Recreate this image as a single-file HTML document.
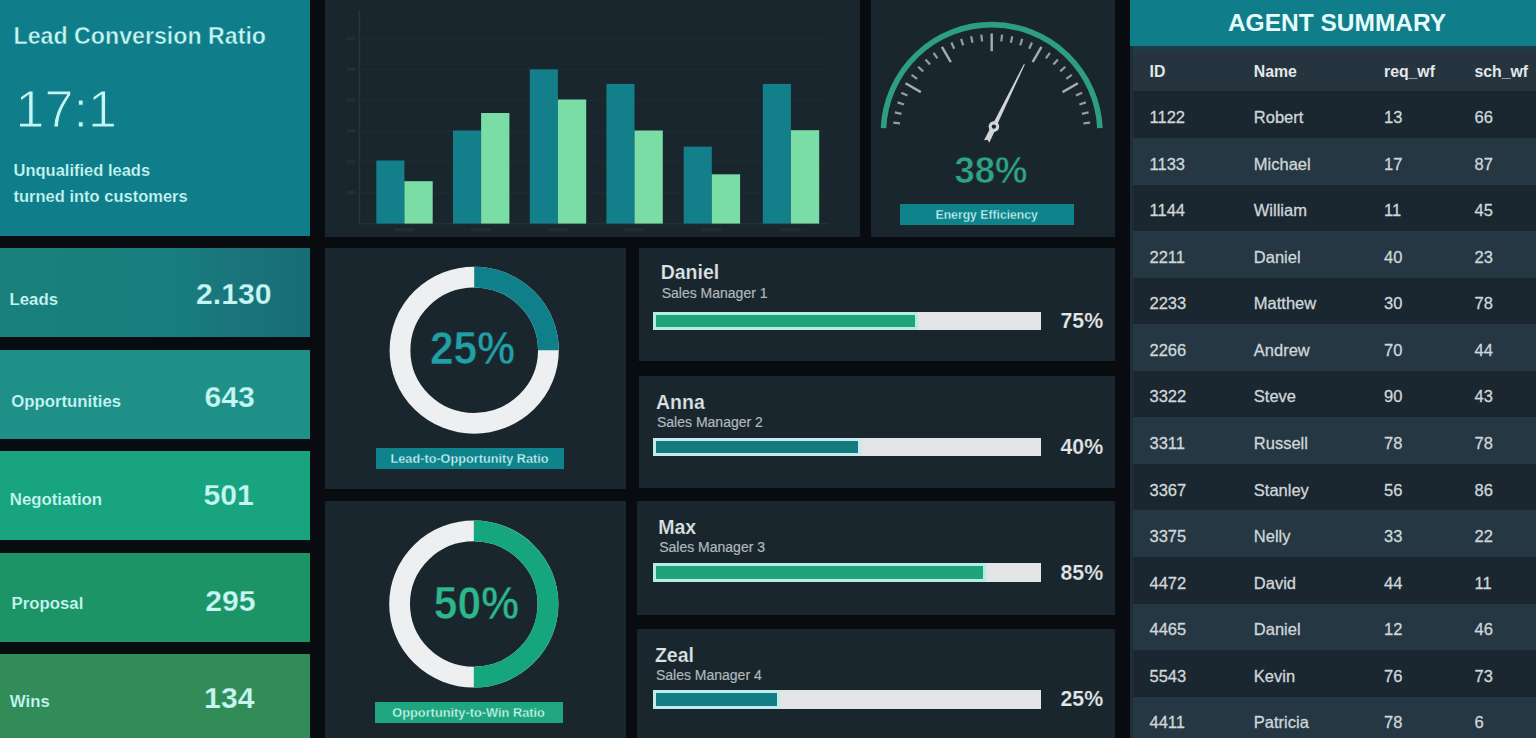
<!DOCTYPE html>
<html><head><meta charset="utf-8">
<style>
*{margin:0;padding:0;box-sizing:border-box}
html,body{width:1536px;height:738px;overflow:hidden;background:#080b10;font-family:"Liberation Sans",sans-serif}
.a{position:absolute}
.t{position:absolute;white-space:nowrap;line-height:1}
svg{position:absolute;overflow:visible}
</style></head><body>
<div class="a" style="left:0px;top:0px;width:310px;height:236px;background:#107e8a;"></div>
<div class="t" style="left:13.5px;top:25.2px;font-size:23.2px;font-weight:bold;color:#c6f6f4;-webkit-text-stroke:0.5px #107e8a">Lead Conversion Ratio</div>
<div class="t" style="left:15.6px;top:82.9px;font-size:52px;font-weight:normal;color:#c6f6f4;-webkit-text-stroke:1.1px #107e8a">17:1</div>
<div class="t" style="left:13.5px;top:162.0px;font-size:16.5px;font-weight:bold;color:#c6f6f4;-webkit-text-stroke:0.2px #107e8a">Unqualified leads</div>
<div class="t" style="left:13.5px;top:187.5px;font-size:16.5px;font-weight:bold;color:#c6f6f4;-webkit-text-stroke:0.2px #107e8a">turned into customers</div>
<div class="a" style="left:0px;top:248px;width:310px;height:89px;background:linear-gradient(90deg,#1a807d 0%,#187e7d 55%,#1a737b 79%,#176c76 100%);"></div>
<div class="t" style="left:9.5px;top:291.5px;font-size:16.8px;font-weight:bold;color:#c6f6f4;-webkit-text-stroke:0.15px #1a807d">Leads</div>
<div class="t" style="left:196.0px;top:279.4px;font-size:30.2px;font-weight:bold;color:#c6f6f4;-webkit-text-stroke:0.25px #19787c">2.130</div>
<div class="a" style="left:0px;top:350px;width:310px;height:89px;background:#1e9088;"></div>
<div class="t" style="left:11.2px;top:394.1px;font-size:16.8px;font-weight:bold;color:#c6f6f4;-webkit-text-stroke:0.15px #1e9088">Opportunities</div>
<div class="t" style="left:204.5px;top:382.2px;font-size:30.2px;font-weight:bold;color:#c6f6f4;-webkit-text-stroke:0.25px #1e9088">643</div>
<div class="a" style="left:0px;top:451px;width:310px;height:89px;background:#17a47e;"></div>
<div class="t" style="left:9.8px;top:491.5px;font-size:16.8px;font-weight:bold;color:#c6f6f4;-webkit-text-stroke:0.15px #17a47e">Negotiation</div>
<div class="t" style="left:203.5px;top:479.9px;font-size:30.2px;font-weight:bold;color:#c6f6f4;-webkit-text-stroke:0.25px #17a47e">501</div>
<div class="a" style="left:0px;top:553px;width:310px;height:89px;background:#1d9465;"></div>
<div class="t" style="left:11.5px;top:596.4px;font-size:16.8px;font-weight:bold;color:#c6f6f4;-webkit-text-stroke:0.15px #1d9465">Proposal</div>
<div class="t" style="left:205.2px;top:585.5px;font-size:30.2px;font-weight:bold;color:#c6f6f4;-webkit-text-stroke:0.25px #1d9465">295</div>
<div class="a" style="left:0px;top:654px;width:310px;height:90px;background:#318c57;"></div>
<div class="t" style="left:9.8px;top:693.6px;font-size:16.8px;font-weight:bold;color:#c6f6f4;-webkit-text-stroke:0.15px #318c57">Wins</div>
<div class="t" style="left:204.1px;top:682.7px;font-size:30.2px;font-weight:bold;color:#c6f6f4;-webkit-text-stroke:0.25px #318c57">134</div>
<div class="a" style="left:325px;top:0px;width:535px;height:237px;background:#1a262d;"></div>
<div class="a" style="left:871px;top:0px;width:244px;height:237px;background:#1a262d;"></div>
<div class="a" style="left:325px;top:248px;width:301px;height:241px;background:#1a262d;"></div>
<div class="a" style="left:325px;top:501px;width:301px;height:237px;background:#1a262d;"></div>
<div class="a" style="left:639px;top:248px;width:476px;height:113px;background:#1a262d;"></div>
<div class="a" style="left:639px;top:376px;width:476px;height:112px;background:#1a262d;"></div>
<div class="a" style="left:637px;top:501px;width:478px;height:114px;background:#1a262d;"></div>
<div class="a" style="left:637px;top:629px;width:478px;height:109px;background:#1a262d;"></div>
<div class="a" style="left:1130px;top:0px;width:406px;height:46.4px;background:#107e8a;"></div>
<div class="t" style="left:1037.0px;width:600px;text-align:center;top:10.5px;font-size:24.5px;font-weight:bold;color:#e6fbfb;">AGENT SUMMARY</div>
<div class="a" style="left:1130px;top:46.4px;width:406px;height:45.2px;background:linear-gradient(180deg,#1a3d47 0px,#213a45 4px,#26343f 9px,#26343f 100%);"></div>
<div class="t" style="left:1149.5px;top:63.8px;font-size:15.8px;font-weight:bold;color:#e2e8ea;">ID</div>
<div class="t" style="left:1253.8px;top:63.8px;font-size:15.8px;font-weight:bold;color:#e2e8ea;">Name</div>
<div class="t" style="left:1384.0px;top:63.8px;font-size:15.8px;font-weight:bold;color:#e2e8ea;">req_wf</div>
<div class="t" style="left:1474.5px;top:63.8px;font-size:15.8px;font-weight:bold;color:#e2e8ea;">sch_wf</div>
<div class="a" style="left:1130px;top:91.40px;width:406px;height:46.86px;background:#1a2630"></div>
<div class="t" style="left:1149.5px;top:109.0px;font-size:16.5px;font-weight:normal;color:#cfd6d9;-webkit-text-stroke:0.3px #cfd6d9">1122</div>
<div class="t" style="left:1253.8px;top:109.0px;font-size:16.5px;font-weight:normal;color:#cfd6d9;-webkit-text-stroke:0.3px #cfd6d9">Robert</div>
<div class="t" style="left:1384.0px;top:109.0px;font-size:16.5px;font-weight:normal;color:#cfd6d9;-webkit-text-stroke:0.3px #cfd6d9">13</div>
<div class="t" style="left:1474.5px;top:109.0px;font-size:16.5px;font-weight:normal;color:#cfd6d9;-webkit-text-stroke:0.3px #cfd6d9">66</div>
<div class="a" style="left:1130px;top:137.96px;width:406px;height:46.86px;background:#243742"></div>
<div class="t" style="left:1149.5px;top:155.6px;font-size:16.5px;font-weight:normal;color:#cfd6d9;-webkit-text-stroke:0.3px #cfd6d9">1133</div>
<div class="t" style="left:1253.8px;top:155.6px;font-size:16.5px;font-weight:normal;color:#cfd6d9;-webkit-text-stroke:0.3px #cfd6d9">Michael</div>
<div class="t" style="left:1384.0px;top:155.6px;font-size:16.5px;font-weight:normal;color:#cfd6d9;-webkit-text-stroke:0.3px #cfd6d9">17</div>
<div class="t" style="left:1474.5px;top:155.6px;font-size:16.5px;font-weight:normal;color:#cfd6d9;-webkit-text-stroke:0.3px #cfd6d9">87</div>
<div class="a" style="left:1130px;top:184.51px;width:406px;height:46.86px;background:#1a2630"></div>
<div class="t" style="left:1149.5px;top:202.1px;font-size:16.5px;font-weight:normal;color:#cfd6d9;-webkit-text-stroke:0.3px #cfd6d9">1144</div>
<div class="t" style="left:1253.8px;top:202.1px;font-size:16.5px;font-weight:normal;color:#cfd6d9;-webkit-text-stroke:0.3px #cfd6d9">William</div>
<div class="t" style="left:1384.0px;top:202.1px;font-size:16.5px;font-weight:normal;color:#cfd6d9;-webkit-text-stroke:0.3px #cfd6d9">11</div>
<div class="t" style="left:1474.5px;top:202.1px;font-size:16.5px;font-weight:normal;color:#cfd6d9;-webkit-text-stroke:0.3px #cfd6d9">45</div>
<div class="a" style="left:1130px;top:231.07px;width:406px;height:46.86px;background:#243742"></div>
<div class="t" style="left:1149.5px;top:248.7px;font-size:16.5px;font-weight:normal;color:#cfd6d9;-webkit-text-stroke:0.3px #cfd6d9">2211</div>
<div class="t" style="left:1253.8px;top:248.7px;font-size:16.5px;font-weight:normal;color:#cfd6d9;-webkit-text-stroke:0.3px #cfd6d9">Daniel</div>
<div class="t" style="left:1384.0px;top:248.7px;font-size:16.5px;font-weight:normal;color:#cfd6d9;-webkit-text-stroke:0.3px #cfd6d9">40</div>
<div class="t" style="left:1474.5px;top:248.7px;font-size:16.5px;font-weight:normal;color:#cfd6d9;-webkit-text-stroke:0.3px #cfd6d9">23</div>
<div class="a" style="left:1130px;top:277.63px;width:406px;height:46.86px;background:#1a2630"></div>
<div class="t" style="left:1149.5px;top:295.3px;font-size:16.5px;font-weight:normal;color:#cfd6d9;-webkit-text-stroke:0.3px #cfd6d9">2233</div>
<div class="t" style="left:1253.8px;top:295.3px;font-size:16.5px;font-weight:normal;color:#cfd6d9;-webkit-text-stroke:0.3px #cfd6d9">Matthew</div>
<div class="t" style="left:1384.0px;top:295.3px;font-size:16.5px;font-weight:normal;color:#cfd6d9;-webkit-text-stroke:0.3px #cfd6d9">30</div>
<div class="t" style="left:1474.5px;top:295.3px;font-size:16.5px;font-weight:normal;color:#cfd6d9;-webkit-text-stroke:0.3px #cfd6d9">78</div>
<div class="a" style="left:1130px;top:324.19px;width:406px;height:46.86px;background:#243742"></div>
<div class="t" style="left:1149.5px;top:341.8px;font-size:16.5px;font-weight:normal;color:#cfd6d9;-webkit-text-stroke:0.3px #cfd6d9">2266</div>
<div class="t" style="left:1253.8px;top:341.8px;font-size:16.5px;font-weight:normal;color:#cfd6d9;-webkit-text-stroke:0.3px #cfd6d9">Andrew</div>
<div class="t" style="left:1384.0px;top:341.8px;font-size:16.5px;font-weight:normal;color:#cfd6d9;-webkit-text-stroke:0.3px #cfd6d9">70</div>
<div class="t" style="left:1474.5px;top:341.8px;font-size:16.5px;font-weight:normal;color:#cfd6d9;-webkit-text-stroke:0.3px #cfd6d9">44</div>
<div class="a" style="left:1130px;top:370.74px;width:406px;height:46.86px;background:#1a2630"></div>
<div class="t" style="left:1149.5px;top:388.4px;font-size:16.5px;font-weight:normal;color:#cfd6d9;-webkit-text-stroke:0.3px #cfd6d9">3322</div>
<div class="t" style="left:1253.8px;top:388.4px;font-size:16.5px;font-weight:normal;color:#cfd6d9;-webkit-text-stroke:0.3px #cfd6d9">Steve</div>
<div class="t" style="left:1384.0px;top:388.4px;font-size:16.5px;font-weight:normal;color:#cfd6d9;-webkit-text-stroke:0.3px #cfd6d9">90</div>
<div class="t" style="left:1474.5px;top:388.4px;font-size:16.5px;font-weight:normal;color:#cfd6d9;-webkit-text-stroke:0.3px #cfd6d9">43</div>
<div class="a" style="left:1130px;top:417.30px;width:406px;height:46.86px;background:#243742"></div>
<div class="t" style="left:1149.5px;top:434.9px;font-size:16.5px;font-weight:normal;color:#cfd6d9;-webkit-text-stroke:0.3px #cfd6d9">3311</div>
<div class="t" style="left:1253.8px;top:434.9px;font-size:16.5px;font-weight:normal;color:#cfd6d9;-webkit-text-stroke:0.3px #cfd6d9">Russell</div>
<div class="t" style="left:1384.0px;top:434.9px;font-size:16.5px;font-weight:normal;color:#cfd6d9;-webkit-text-stroke:0.3px #cfd6d9">78</div>
<div class="t" style="left:1474.5px;top:434.9px;font-size:16.5px;font-weight:normal;color:#cfd6d9;-webkit-text-stroke:0.3px #cfd6d9">78</div>
<div class="a" style="left:1130px;top:463.86px;width:406px;height:46.86px;background:#1a2630"></div>
<div class="t" style="left:1149.5px;top:481.5px;font-size:16.5px;font-weight:normal;color:#cfd6d9;-webkit-text-stroke:0.3px #cfd6d9">3367</div>
<div class="t" style="left:1253.8px;top:481.5px;font-size:16.5px;font-weight:normal;color:#cfd6d9;-webkit-text-stroke:0.3px #cfd6d9">Stanley</div>
<div class="t" style="left:1384.0px;top:481.5px;font-size:16.5px;font-weight:normal;color:#cfd6d9;-webkit-text-stroke:0.3px #cfd6d9">56</div>
<div class="t" style="left:1474.5px;top:481.5px;font-size:16.5px;font-weight:normal;color:#cfd6d9;-webkit-text-stroke:0.3px #cfd6d9">86</div>
<div class="a" style="left:1130px;top:510.41px;width:406px;height:46.86px;background:#243742"></div>
<div class="t" style="left:1149.5px;top:528.0px;font-size:16.5px;font-weight:normal;color:#cfd6d9;-webkit-text-stroke:0.3px #cfd6d9">3375</div>
<div class="t" style="left:1253.8px;top:528.0px;font-size:16.5px;font-weight:normal;color:#cfd6d9;-webkit-text-stroke:0.3px #cfd6d9">Nelly</div>
<div class="t" style="left:1384.0px;top:528.0px;font-size:16.5px;font-weight:normal;color:#cfd6d9;-webkit-text-stroke:0.3px #cfd6d9">33</div>
<div class="t" style="left:1474.5px;top:528.0px;font-size:16.5px;font-weight:normal;color:#cfd6d9;-webkit-text-stroke:0.3px #cfd6d9">22</div>
<div class="a" style="left:1130px;top:556.97px;width:406px;height:46.86px;background:#1a2630"></div>
<div class="t" style="left:1149.5px;top:574.6px;font-size:16.5px;font-weight:normal;color:#cfd6d9;-webkit-text-stroke:0.3px #cfd6d9">4472</div>
<div class="t" style="left:1253.8px;top:574.6px;font-size:16.5px;font-weight:normal;color:#cfd6d9;-webkit-text-stroke:0.3px #cfd6d9">David</div>
<div class="t" style="left:1384.0px;top:574.6px;font-size:16.5px;font-weight:normal;color:#cfd6d9;-webkit-text-stroke:0.3px #cfd6d9">44</div>
<div class="t" style="left:1474.5px;top:574.6px;font-size:16.5px;font-weight:normal;color:#cfd6d9;-webkit-text-stroke:0.3px #cfd6d9">11</div>
<div class="a" style="left:1130px;top:603.53px;width:406px;height:46.86px;background:#243742"></div>
<div class="t" style="left:1149.5px;top:621.2px;font-size:16.5px;font-weight:normal;color:#cfd6d9;-webkit-text-stroke:0.3px #cfd6d9">4465</div>
<div class="t" style="left:1253.8px;top:621.2px;font-size:16.5px;font-weight:normal;color:#cfd6d9;-webkit-text-stroke:0.3px #cfd6d9">Daniel</div>
<div class="t" style="left:1384.0px;top:621.2px;font-size:16.5px;font-weight:normal;color:#cfd6d9;-webkit-text-stroke:0.3px #cfd6d9">12</div>
<div class="t" style="left:1474.5px;top:621.2px;font-size:16.5px;font-weight:normal;color:#cfd6d9;-webkit-text-stroke:0.3px #cfd6d9">46</div>
<div class="a" style="left:1130px;top:650.08px;width:406px;height:46.86px;background:#1a2630"></div>
<div class="t" style="left:1149.5px;top:667.7px;font-size:16.5px;font-weight:normal;color:#cfd6d9;-webkit-text-stroke:0.3px #cfd6d9">5543</div>
<div class="t" style="left:1253.8px;top:667.7px;font-size:16.5px;font-weight:normal;color:#cfd6d9;-webkit-text-stroke:0.3px #cfd6d9">Kevin</div>
<div class="t" style="left:1384.0px;top:667.7px;font-size:16.5px;font-weight:normal;color:#cfd6d9;-webkit-text-stroke:0.3px #cfd6d9">76</div>
<div class="t" style="left:1474.5px;top:667.7px;font-size:16.5px;font-weight:normal;color:#cfd6d9;-webkit-text-stroke:0.3px #cfd6d9">73</div>
<div class="a" style="left:1130px;top:696.64px;width:406px;height:46.86px;background:#243742"></div>
<div class="t" style="left:1149.5px;top:714.3px;font-size:16.5px;font-weight:normal;color:#cfd6d9;-webkit-text-stroke:0.3px #cfd6d9">4411</div>
<div class="t" style="left:1253.8px;top:714.3px;font-size:16.5px;font-weight:normal;color:#cfd6d9;-webkit-text-stroke:0.3px #cfd6d9">Patricia</div>
<div class="t" style="left:1384.0px;top:714.3px;font-size:16.5px;font-weight:normal;color:#cfd6d9;-webkit-text-stroke:0.3px #cfd6d9">78</div>
<div class="t" style="left:1474.5px;top:714.3px;font-size:16.5px;font-weight:normal;color:#cfd6d9;-webkit-text-stroke:0.3px #cfd6d9">6</div>
<div class="a" style="left:1129.5px;top:46.4px;width:3px;height:700px;background:#202e38;"></div>
<svg style="left:0;top:0" width="1536" height="738" viewBox="0 0 1536 738"><line x1="360" y1="192.8" x2="829" y2="192.8" stroke="#212c33" stroke-width="1"/><rect x="347" y="190.8" width="8" height="3.5" fill="#232e35"/><line x1="360" y1="162.0" x2="829" y2="162.0" stroke="#212c33" stroke-width="1"/><rect x="347" y="160.0" width="8" height="3.5" fill="#232e35"/><line x1="360" y1="131.2" x2="829" y2="131.2" stroke="#212c33" stroke-width="1"/><rect x="347" y="129.2" width="8" height="3.5" fill="#232e35"/><line x1="360" y1="100.4" x2="829" y2="100.4" stroke="#212c33" stroke-width="1"/><rect x="347" y="98.4" width="8" height="3.5" fill="#232e35"/><line x1="360" y1="69.6" x2="829" y2="69.6" stroke="#212c33" stroke-width="1"/><rect x="347" y="67.6" width="8" height="3.5" fill="#232e35"/><line x1="360" y1="38.8" x2="829" y2="38.8" stroke="#212c33" stroke-width="1"/><rect x="347" y="36.8" width="8" height="3.5" fill="#232e35"/><line x1="359.5" y1="10" x2="359.5" y2="224" stroke="#2a343c" stroke-width="1.5"/><line x1="359" y1="223.8" x2="829" y2="223.8" stroke="#2a343c" stroke-width="1"/><rect x="376.3" y="160.5" width="28.1" height="63.1" fill="#127f8b"/><rect x="404.4" y="181.2" width="28.3" height="42.4" fill="#7adda6"/><rect x="394.3" y="228" width="20" height="3" fill="#222d34"/><rect x="453.0" y="130.5" width="28.1" height="93.1" fill="#127f8b"/><rect x="481.1" y="113" width="28.3" height="110.6" fill="#7adda6"/><rect x="471.0" y="228" width="20" height="3" fill="#222d34"/><rect x="529.8" y="69.3" width="28.1" height="154.3" fill="#127f8b"/><rect x="557.9" y="99.5" width="28.3" height="124.1" fill="#7adda6"/><rect x="547.8" y="228" width="20" height="3" fill="#222d34"/><rect x="606.4" y="83.9" width="28.1" height="139.7" fill="#127f8b"/><rect x="634.5" y="130.5" width="28.3" height="93.1" fill="#7adda6"/><rect x="624.4" y="228" width="20" height="3" fill="#222d34"/><rect x="683.7" y="146.6" width="28.1" height="77.0" fill="#127f8b"/><rect x="711.8" y="174.3" width="28.3" height="49.3" fill="#7adda6"/><rect x="701.7" y="228" width="20" height="3" fill="#222d34"/><rect x="762.8" y="83.9" width="28.1" height="139.7" fill="#127f8b"/><rect x="790.9" y="130.2" width="28.3" height="93.4" fill="#7adda6"/><rect x="780.8" y="228" width="20" height="3" fill="#222d34"/><path d="M883.51,128.09 A108.3,108.3 0 0 1 1099.89,128.09" fill="none" stroke="#2d9e84" stroke-width="5.6"/><line x1="900.01" y1="123.36" x2="893.24" y2="122.65" stroke="#969da2" stroke-width="2.2"/><line x1="901.51" y1="113.83" x2="894.86" y2="112.42" stroke="#969da2" stroke-width="2.2"/><line x1="904.01" y1="104.51" x2="897.55" y2="102.41" stroke="#969da2" stroke-width="2.2"/><line x1="907.47" y1="95.50" x2="901.26" y2="92.73" stroke="#969da2" stroke-width="2.2"/><line x1="920.86" y1="92.10" x2="905.53" y2="83.25" stroke="#a7adb1" stroke-width="2.4"/><line x1="917.11" y1="78.81" x2="911.61" y2="74.81" stroke="#969da2" stroke-width="2.2"/><line x1="923.18" y1="71.31" x2="918.13" y2="66.76" stroke="#969da2" stroke-width="2.2"/><line x1="930.01" y1="64.48" x2="925.46" y2="59.43" stroke="#969da2" stroke-width="2.2"/><line x1="937.51" y1="58.41" x2="933.51" y2="52.91" stroke="#969da2" stroke-width="2.2"/><line x1="950.80" y1="62.16" x2="941.95" y2="46.83" stroke="#a7adb1" stroke-width="2.4"/><line x1="954.20" y1="48.77" x2="951.43" y2="42.56" stroke="#969da2" stroke-width="2.2"/><line x1="963.21" y1="45.31" x2="961.11" y2="38.85" stroke="#969da2" stroke-width="2.2"/><line x1="972.53" y1="42.81" x2="971.12" y2="36.16" stroke="#969da2" stroke-width="2.2"/><line x1="982.06" y1="41.31" x2="981.35" y2="34.54" stroke="#969da2" stroke-width="2.2"/><line x1="991.70" y1="51.20" x2="991.70" y2="33.50" stroke="#a7adb1" stroke-width="2.4"/><line x1="1001.34" y1="41.31" x2="1002.05" y2="34.54" stroke="#969da2" stroke-width="2.2"/><line x1="1010.87" y1="42.81" x2="1012.28" y2="36.16" stroke="#969da2" stroke-width="2.2"/><line x1="1020.19" y1="45.31" x2="1022.29" y2="38.85" stroke="#969da2" stroke-width="2.2"/><line x1="1029.20" y1="48.77" x2="1031.97" y2="42.56" stroke="#969da2" stroke-width="2.2"/><line x1="1032.60" y1="62.16" x2="1041.45" y2="46.83" stroke="#a7adb1" stroke-width="2.4"/><line x1="1045.89" y1="58.41" x2="1049.89" y2="52.91" stroke="#969da2" stroke-width="2.2"/><line x1="1053.39" y1="64.48" x2="1057.94" y2="59.43" stroke="#969da2" stroke-width="2.2"/><line x1="1060.22" y1="71.31" x2="1065.27" y2="66.76" stroke="#969da2" stroke-width="2.2"/><line x1="1066.29" y1="78.81" x2="1071.79" y2="74.81" stroke="#969da2" stroke-width="2.2"/><line x1="1062.54" y1="92.10" x2="1077.87" y2="83.25" stroke="#a7adb1" stroke-width="2.4"/><line x1="1075.93" y1="95.50" x2="1082.14" y2="92.73" stroke="#969da2" stroke-width="2.2"/><line x1="1079.39" y1="104.51" x2="1085.85" y2="102.41" stroke="#969da2" stroke-width="2.2"/><line x1="1081.89" y1="113.83" x2="1088.54" y2="112.42" stroke="#969da2" stroke-width="2.2"/><line x1="1083.39" y1="123.36" x2="1090.16" y2="122.65" stroke="#969da2" stroke-width="2.2"/><polygon points="995.88,127.57 1024.85,64.42 1023.95,63.98 991.92,125.63" fill="#d3d6d8"/><polygon points="996.24,127.74 989.26,142.70 987.53,139.63 984.05,140.15 991.56,125.46" fill="#d3d6d8"/><circle cx="993.9" cy="126.6" r="5.3" fill="#d3d6d8"/><circle cx="993.9" cy="126.6" r="2.2" fill="#1a262d"/><ellipse cx="474.2" cy="350.2" rx="74.2" ry="73.1" fill="none" stroke="#eeeff0" stroke-width="20.8"/><path d="M474.2,277.1 A74.2,73.1 0 0 1 548.40,350.20" fill="none" stroke="#0f808a" stroke-width="20.8"/><ellipse cx="473.8" cy="604" rx="74.2" ry="73.1" fill="none" stroke="#eeeff0" stroke-width="20.8"/><path d="M473.8,530.9 A74.2,73.1 0 0 1 473.80,677.10" fill="none" stroke="#16a67d" stroke-width="20.8"/></svg>
<div class="t" style="left:691.0px;width:600px;text-align:center;top:152.5px;font-size:36.5px;font-weight:bold;color:#2fa386;-webkit-text-stroke:0.6px #1a262d">38%</div>
<div class="a" style="left:900px;top:203.5px;width:174px;height:21.7px;background:#0f838b;"></div>
<div class="t" style="left:686.7px;width:600px;text-align:center;top:208.8px;font-size:12.2px;font-weight:bold;color:#c5f3f3;-webkit-text-stroke:0.3px #0f838b">Energy Efficiency</div>
<div class="t" style="left:172.5px;width:600px;text-align:center;top:328.5px;font-size:42.5px;font-weight:bold;color:#20a0a6;transform:scale(1.0,1.08);transform-origin:300px 35.98px;-webkit-text-stroke:0.6px #1a262d">25%</div>
<div class="t" style="left:176.4px;width:600px;text-align:center;top:583.5px;font-size:42.5px;font-weight:bold;color:#2cb88b;transform:scale(1.0,1.08);transform-origin:300px 35.98px;-webkit-text-stroke:0.6px #1a262d">50%</div>
<div class="a" style="left:375.5px;top:447.9px;width:188px;height:21.1px;background:#0f838b;"></div>
<div class="t" style="left:169.5px;width:600px;text-align:center;top:452.7px;font-size:12.7px;font-weight:bold;color:#c5f3f3;-webkit-text-stroke:0.3px #0f838b">Lead-to-Opportunity Ratio</div>
<div class="a" style="left:374.5px;top:701.5px;width:188px;height:21.9px;background:#1fa67f;"></div>
<div class="t" style="left:168.6px;width:600px;text-align:center;top:706.8px;font-size:12.8px;font-weight:bold;color:#c8f6ea;-webkit-text-stroke:0.3px #1fa67f">Opportunity-to-Win Ratio</div>
<div class="t" style="left:660.7px;top:263.2px;font-size:19.5px;font-weight:bold;color:#dde3e5;-webkit-text-stroke:0.2px #1a262d">Daniel</div>
<div class="t" style="left:661.7px;top:286.1px;font-size:14px;font-weight:normal;color:#b0b8bc;-webkit-text-stroke:0.2px #b0b8bc">Sales Manager 1</div>
<div class="a" style="left:652.5px;top:311.5px;width:388.5px;height:18.5px;background:#e3e4e6;"></div>
<div class="a" style="left:652.5px;top:311.5px;width:265.2px;height:18.5px;background:#1ea37b;border:3.3px solid #b3eee0"></div>
<div class="t" style="left:1060.5px;top:310.7px;font-size:21.3px;font-weight:bold;color:#e2e6e8;-webkit-text-stroke:0.2px #1a262d">75%</div>
<div class="t" style="left:656.0px;top:392.7px;font-size:19.5px;font-weight:bold;color:#dde3e5;-webkit-text-stroke:0.2px #1a262d">Anna</div>
<div class="t" style="left:657.0px;top:414.8px;font-size:14px;font-weight:normal;color:#b0b8bc;-webkit-text-stroke:0.2px #b0b8bc">Sales Manager 2</div>
<div class="a" style="left:652.5px;top:437.8px;width:388.5px;height:18.5px;background:#e3e4e6;"></div>
<div class="a" style="left:652.5px;top:437.8px;width:208.3px;height:18.5px;background:#147a80;border:3.3px solid #c5ecec"></div>
<div class="t" style="left:1060.5px;top:436.7px;font-size:21.3px;font-weight:bold;color:#e2e6e8;-webkit-text-stroke:0.2px #1a262d">40%</div>
<div class="t" style="left:658.2px;top:518.0px;font-size:19.5px;font-weight:bold;color:#dde3e5;-webkit-text-stroke:0.2px #1a262d">Max</div>
<div class="t" style="left:659.2px;top:540.3px;font-size:14px;font-weight:normal;color:#b0b8bc;-webkit-text-stroke:0.2px #b0b8bc">Sales Manager 3</div>
<div class="a" style="left:652.5px;top:563.1px;width:388.5px;height:18.5px;background:#e3e4e6;"></div>
<div class="a" style="left:652.5px;top:563.1px;width:333.6px;height:18.5px;background:#1ea37b;border:3.3px solid #b3eee0"></div>
<div class="t" style="left:1060.5px;top:562.7px;font-size:21.3px;font-weight:bold;color:#e2e6e8;-webkit-text-stroke:0.2px #1a262d">85%</div>
<div class="t" style="left:654.9px;top:645.7px;font-size:19.5px;font-weight:bold;color:#dde3e5;-webkit-text-stroke:0.2px #1a262d">Zeal</div>
<div class="t" style="left:655.9px;top:668.0px;font-size:14px;font-weight:normal;color:#b0b8bc;-webkit-text-stroke:0.2px #b0b8bc">Sales Manager 4</div>
<div class="a" style="left:652.5px;top:690.1px;width:388.5px;height:18.5px;background:#e3e4e6;"></div>
<div class="a" style="left:652.5px;top:690.1px;width:127.0px;height:18.5px;background:#127d85;border:3.3px solid #c5ecec"></div>
<div class="t" style="left:1060.5px;top:689.4px;font-size:21.3px;font-weight:bold;color:#e2e6e8;-webkit-text-stroke:0.2px #1a262d">25%</div>
</body></html>
